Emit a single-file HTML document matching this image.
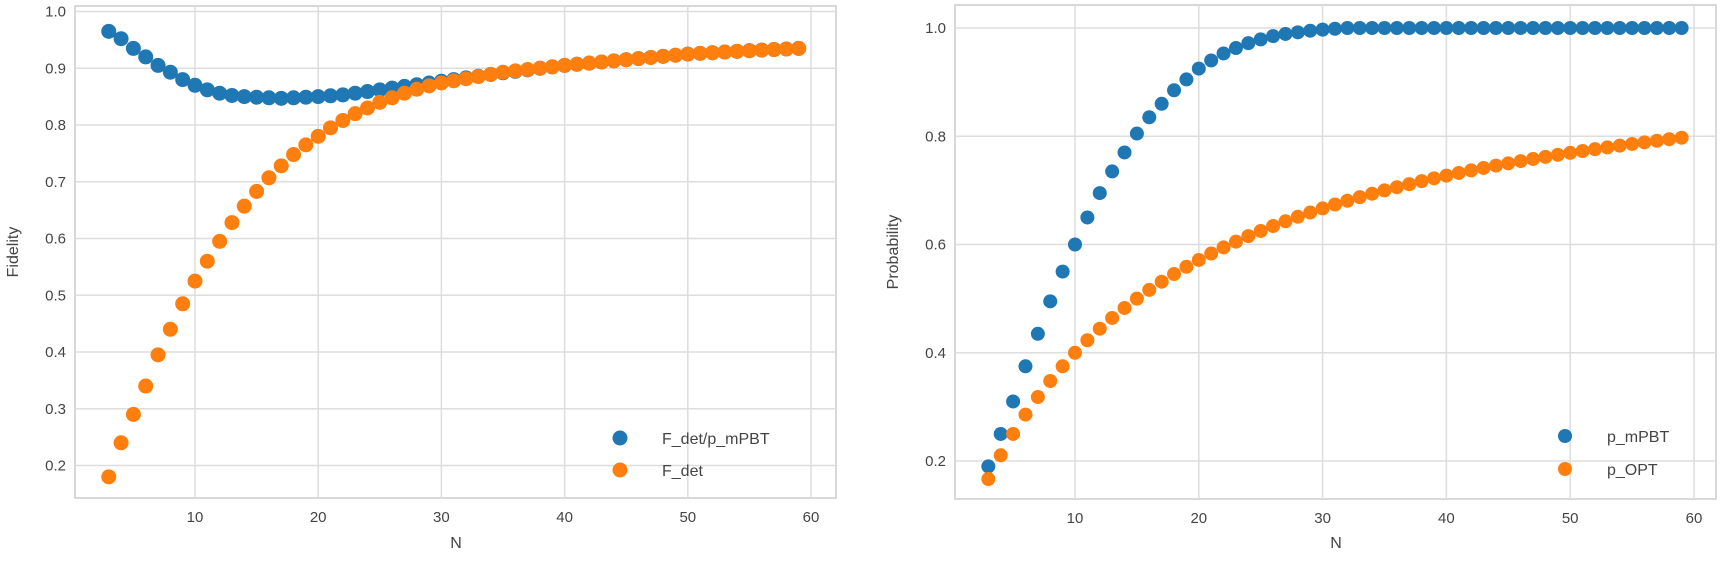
<!DOCTYPE html>
<html><head><meta charset="utf-8"><style>
html,body{margin:0;padding:0;background:#fff;}
svg text{font-family:"Liberation Sans",sans-serif;fill:#444;}
</style></head><body>
<svg id="s" width="1724" height="561" xmlns="http://www.w3.org/2000/svg"></svg>
<script>
const s=document.getElementById('s');let h='';
function interp(pts,n){const k=Object.keys(pts).map(Number).sort((a,b)=>a-b);
 for(let i=0;i<k.length-1;i++){if(n>=k[i]&&n<=k[i+1]){const t=(n-k[i])/(k[i+1]-k[i]);return pts[k[i]]+t*(pts[k[i+1]]-pts[k[i]]);}}return pts[k[k.length-1]];}
function axes(L,R,T,B,xf,yf,yt,yfmt){
 h+=`<rect x="${L}" y="${T}" width="${R-L}" height="${B-T}" fill="none" stroke="#ccc" stroke-width="1.5"/>`;
 for(let v=10;v<=60;v+=10){const x=xf(v);h+=`<line x1="${x}" y1="${T}" x2="${x}" y2="${B}" stroke="#ddd" stroke-width="1.5"/><text x="${x}" y="${B+24}" font-size="15" text-anchor="middle">${v}</text>`;}
 yt.forEach(v=>{const y=yf(v);h+=`<line x1="${L}" y1="${y}" x2="${R}" y2="${y}" stroke="#ddd" stroke-width="1.5"/><text x="${L-9}" y="${y+5}" font-size="15" text-anchor="end">${v.toFixed(1)}</text>`;});
}
// left
const xl=v=>195+12.32*(v-10), yl=v=>465.5-(v-0.2)*567.5;
axes(75,836,6,498,xl,yl,[0.2,0.3,0.4,0.5,0.6,0.7,0.8,0.9,1.0]);
const blue={3:.965,4:.952,5:.935,6:.92,7:.905,8:.893,9:.88,10:.87,11:.862,12:.856,13:.852,14:.85,15:.849,16:.848,17:.847,18:.848,19:.849,20:.85,22:.853,25:.862,30:.877,35:.892,40:.905,45:.915,50:.925,55:.931,59:.935};
const org={3:.18,4:.24,5:.29,6:.34,7:.395,8:.44,9:.485,10:.525,11:.56,12:.595,13:.628,14:.657,15:.683,16:.707,17:.728,18:.748,19:.765,20:.78,21:.795,22:.808,23:.82,24:.83,25:.84,26:.848,27:.856,28:.863,29:.869,30:.874,35:.893,40:.905,45:.915,50:.925,55:.931,59:.935};
for(let n=3;n<=59;n++)h+=`<circle cx="${xl(n)}" cy="${yl(interp(blue,n))}" r="7.5" fill="#1f77b4"/>`;
for(let n=3;n<=59;n++)h+=`<circle cx="${xl(n)}" cy="${yl(interp(org,n))}" r="7.5" fill="#ff7f0e"/>`;
h+=`<circle cx="620" cy="438" r="7.5" fill="#1f77b4"/><text x="662" y="444" font-size="16">F_det/p_mPBT</text>`;
h+=`<circle cx="620" cy="470" r="7.5" fill="#ff7f0e"/><text x="662" y="476" font-size="16">F_det</text>`;
h+=`<text x="456" y="548" font-size="16" text-anchor="middle">N</text>`;
h+=`<text transform="translate(18,252) rotate(-90)" font-size="16" text-anchor="middle">Fidelity</text>`;
// right
const xr=v=>1075+12.38*(v-10), yr=v=>461-(v-0.2)*541.25;
axes(955,1716,5,499,xr,yr,[0.2,0.4,0.6,0.8,1.0]);
const pm={3:.19,4:.25,5:.31,6:.375,7:.435,8:.495,9:.55,10:.60,11:.65,12:.695,13:.735,14:.77,15:.805,16:.835,17:.86,18:.885,19:.905,20:.925,21:.94,22:.953,23:.963,24:.972,25:.979,26:.985,27:.989,28:.992,29:.995,30:.997,32:1.0,59:1.0};
for(let n=3;n<=59;n++)h+=`<circle cx="${xr(n)}" cy="${yr(interp(pm,n))}" r="7" fill="#1f77b4"/>`;
for(let n=3;n<=59;n++)h+=`<circle cx="${xr(n)}" cy="${yr(n/(n+15))}" r="7" fill="#ff7f0e"/>`;
h+=`<circle cx="1565" cy="436" r="7" fill="#1f77b4"/><text x="1607" y="442" font-size="16">p_mPBT</text>`;
h+=`<circle cx="1565" cy="469" r="7" fill="#ff7f0e"/><text x="1607" y="475" font-size="16">p_OPT</text>`;
h+=`<text x="1336" y="548" font-size="16" text-anchor="middle">N</text>`;
h+=`<text transform="translate(898,252) rotate(-90)" font-size="16" text-anchor="middle">Probability</text>`;
s.innerHTML=h;
</script>
</body></html>
